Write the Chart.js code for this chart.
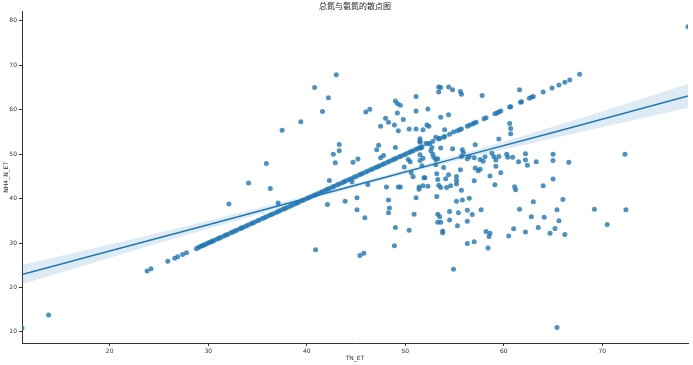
<!DOCTYPE html>
<html>
<head>
<meta charset="utf-8">
<script src="https://cdn.jsdelivr.net/npm/chart.js@4"></script>
<style>
  html, body { margin: 0; padding: 0; background: #fff; }
</style>
</head>
<body>
<canvas id="tnNh4Scatter" width="693" height="365"></canvas>
<script>
// points lying on NH4 = TN
const lineTN = [
  11.1, 13.8, 23.8, 24.2, 25.9, 26.6, 26.9, 27.4, 27.8,
  28.8, 29.0, 29.2, 29.4, 29.5, 29.7, 29.9, 30.1, 30.3, 30.4, 30.6, 30.9, 31.1, 31.3, 31.6, 31.8,
  32.0, 32.3, 32.5, 32.7, 32.9, 33.2, 33.4, 33.5, 33.8, 34.0, 34.3, 34.5, 34.7, 35.0, 35.2, 35.5,
  35.7, 35.9, 36.2, 36.4, 36.6, 36.9, 37.1, 37.3, 37.6, 37.8, 38.0, 38.3, 38.5, 38.8, 39.0, 39.2,
  39.5, 39.7, 40.0, 40.2, 40.4, 40.7, 40.9, 41.1, 41.4, 41.6, 41.9, 42.1, 42.3, 42.6, 42.8, 43.1,
  43.3, 43.6, 43.8, 44.0, 44.3, 44.5, 44.8, 45.0, 45.3, 45.5, 45.7, 46.0, 46.2, 46.5, 46.7, 47.0,
  47.2, 47.4, 47.7, 47.9, 48.2, 48.4, 48.7, 48.9, 49.1, 49.4, 49.6, 49.9, 50.1, 50.4, 50.6, 50.8,
  51.1, 51.3, 51.5, 51.7,
  52.3, 52.8, 53.4, 54.0, 54.5, 54.9, 55.3, 55.5, 55.7, 56.3, 56.5, 56.8, 57.0, 57.2, 58.0, 58.2,
  59.1, 59.3, 59.5, 59.7, 60.6, 60.7, 61.7, 61.8, 62.6, 62.8, 63.0, 64.0, 64.9, 65.6, 66.2, 66.7,
  67.7, 78.7
];
const lineNH4 = [
  10.9, 13.8, 23.7, 24.2, 25.9, 26.6, 26.9, 27.4, 27.8,
  28.7, 29.0, 29.2, 29.4, 29.5, 29.7, 29.9, 30.1, 30.3, 30.4, 30.6, 30.9, 31.1, 31.3, 31.6, 31.8,
  32.0, 32.3, 32.5, 32.7, 32.9, 33.2, 33.4, 33.5, 33.8, 34.0, 34.3, 34.5, 34.7, 35.0, 35.2, 35.5,
  35.7, 35.9, 36.2, 36.4, 36.6, 36.9, 37.1, 37.3, 37.6, 37.8, 38.0, 38.3, 38.5, 38.8, 39.0, 39.2,
  39.5, 39.7, 40.0, 40.2, 40.4, 40.7, 40.9, 41.1, 41.4, 41.6, 41.9, 42.1, 42.3, 42.6, 42.8, 43.1,
  43.3, 43.6, 43.8, 44.0, 44.3, 44.5, 44.8, 45.0, 45.3, 45.5, 45.7, 46.0, 46.2, 46.5, 46.7, 47.0,
  47.2, 47.4, 47.7, 47.9, 48.2, 48.4, 48.7, 48.9, 49.1, 49.4, 49.6, 49.9, 50.1, 50.4, 50.6, 50.8,
  51.1, 51.3, 51.5, 51.7,
  52.4, 52.9, 53.4, 54.0, 54.5, 55.0, 55.3, 55.5, 55.7, 56.3, 56.5, 56.8, 57.0, 57.2, 58.0, 58.2,
  59.1, 59.3, 59.5, 59.7, 60.6, 60.7, 61.7, 61.8, 62.6, 62.8, 63.0, 64.0, 64.9, 65.6, 66.2, 66.7,
  68.0, 78.7
];

// the scattered cloud
const cloudTN = [
  39.4, 37.5, 35.9, 34.1, 36.3, 32.1, 37.1,
  43.0, 40.8, 42.2, 41.6, 46.0, 46.4, 49.0, 49.2, 49.5, 51.1, 51.1, 52.3, 49.2, 48.0, 48.3, 47.5,
  48.9, 49.8, 49.3, 50.4, 51.1, 51.8, 52.2, 51.5, 51.5, 43.3, 43.3, 42.7, 42.9, 47.3, 47.1, 49.0,
  47.8, 47.5, 45.2, 44.7, 50.3, 50.5, 51.5, 49.9, 50.6, 50.8, 51.9, 42.3, 44.6, 46.2, 48.1, 49.3,
  49.5, 51.4, 51.8,
  51.4, 52.3, 42.1, 43.9, 45.1, 45.1, 45.9, 48.3, 48.4, 48.3, 51.1, 50.9, 49.0, 50.4, 40.9, 45.4,
  45.8, 48.9,
  53.4, 53.6, 53.4, 54.4, 54.8, 55.6, 55.7, 57.8, 54.4, 53.6, 52.4, 54.0, 53.1, 53.5, 53.9, 51.5,
  51.6, 52.1, 52.5, 52.7, 52.6, 52.8, 53.6, 54.8, 55.8, 55.9, 55.7, 57.1, 56.5, 56.3, 57.0, 57.6,
  57.9, 58.1, 58.8, 59.0, 59.5, 59.5, 59.2, 60.3, 60.4, 60.9, 60.6, 60.7, 60.7, 61.5, 62.2, 62.2,
  62.4, 63.3, 61.6, 51.5, 51.8, 52.9, 53.1, 53.3, 51.7, 52.0, 53.1, 53.9, 53.2, 53.3, 54.4, 54.1,
  55.2, 55.2, 55.6, 57.4, 57.6, 57.1, 58.6, 59.7, 59.2, 57.0,
  53.4, 53.6, 54.2, 54.6, 55.2, 55.7, 59.1, 61.1, 61.2, 64.0, 53.2, 55.2, 55.8, 56.5, 54.5, 55.4,
  56.3, 56.8, 57.7, 53.3, 53.5, 53.3, 53.6, 54.5, 56.3, 55.3, 53.8, 53.8, 58.2, 58.6, 58.5, 56.3,
  57.0, 58.4, 54.9, 63.0, 61.6, 62.8, 64.1, 61.0, 60.5, 62.2, 63.5, 64.7,
  65.0, 65.0, 66.6, 72.3, 65.0, 66.0, 65.4, 69.2, 72.4, 65.6, 65.2, 66.2, 70.5, 65.4
];
const cloudNH4 = [
  57.3, 55.4, 47.9, 43.5, 42.3, 38.8, 39.0,
  67.9, 65.0, 62.7, 59.6, 59.5, 60.1, 62.0, 61.4, 61.0, 63.0, 59.7, 60.2, 59.3, 58.1, 57.2, 56.3,
  56.6, 57.8, 55.3, 55.7, 55.7, 55.5, 56.6, 53.5, 52.7, 52.2, 50.8, 50.0, 48.1, 52.0, 51.0, 51.5,
  49.7, 49.2, 48.9, 48.2, 48.8, 48.3, 48.6, 47.1, 45.8, 44.9, 44.7, 44.1, 43.8, 43.2, 42.6, 42.6,
  42.6, 42.6, 42.9,
  42.1, 42.8, 38.7, 39.4, 40.2, 37.5, 35.7, 39.7, 37.9, 36.8, 40.2, 36.5, 33.5, 32.9, 28.5, 27.2,
  27.7, 29.4,
  65.1, 65.0, 64.0, 65.1, 64.5, 64.1, 63.5, 63.2, 58.9, 58.3, 56.3, 55.5, 53.8, 53.6, 53.8, 52.9,
  51.4, 52.4, 52.4, 51.5, 50.8, 50.0, 51.4, 51.2, 51.0, 50.3, 49.5, 52.1, 49.5, 49.0, 49.2, 48.8,
  48.4, 49.4, 50.2, 49.4, 53.4, 49.5, 48.7, 50.0, 49.3, 49.3, 56.9, 55.8, 54.6, 48.3, 50.1, 48.7,
  47.5, 48.3, 64.5, 49.9, 49.1, 49.3, 48.8, 49.0, 47.4, 44.7, 47.6, 47.0, 45.6, 44.3, 45.4, 44.5,
  45.0, 44.1, 46.5, 46.3, 46.6, 46.9, 45.1, 45.8, 47.3, 44.0,
  43.0, 42.5, 42.5, 42.9, 43.3, 41.9, 43.1, 42.7, 42.0, 42.9, 40.5, 39.4, 39.7, 40.1, 37.1, 36.8,
  37.4, 36.4, 37.5, 36.5, 35.9, 34.7, 34.7, 35.2, 34.9, 33.9, 32.7, 32.3, 32.6, 32.2, 31.5, 29.9,
  30.3, 28.9, 24.1, 39.3, 37.6, 35.9, 35.8, 33.2, 31.6, 32.5, 33.5, 32.2,
  50.0, 48.6, 48.2, 50.0, 44.4, 39.8, 37.5, 37.6, 37.5, 35.0, 33.3, 31.9, 34.2, 11.0
];

// regression line and its confidence band
const fitTN = [11.1, 20, 30, 40, 48, 55, 65, 78.7];
const fitNH4 = [22.9, 28.2, 34.1, 40.1, 44.8, 49.0, 54.9, 63.1];
const bandLow = [20.7, 26.7, 33.2, 39.55, 44.35, 48.4, 53.6, 60.4];
const bandHigh = [25.1, 29.7, 35.0, 40.65, 45.25, 49.6, 56.2, 65.8];

const xTicks = [20, 30, 40, 50, 60, 70];
const yTicks = [10, 20, 30, 40, 50, 60, 70, 80];

const toPoints = (xs, ys) => xs.map((x, i) => ({ x: x, y: ys[i] }));

const blue = "#1f77b4";
const axisColor = "#333";
const tickFont = { family: "DejaVu Sans", size: 6 };

new Chart(document.getElementById("tnNh4Scatter"), {
  type: "scatter",
  data: {
    datasets: [
      {
        label: "fit",
        data: toPoints(fitTN, fitNH4),
        showLine: true,
        borderColor: blue,
        borderWidth: 1.5,
        pointRadius: 0,
        fill: false,
      },
      {
        label: "ci low",
        data: toPoints(fitTN, bandLow),
        showLine: true,
        borderWidth: 0,
        borderColor: "rgba(0,0,0,0)",
        pointRadius: 0,
        fill: false,
        cubicInterpolationMode: "monotone",
      },
      {
        label: "ci high",
        data: toPoints(fitTN, bandHigh),
        showLine: true,
        borderWidth: 0,
        borderColor: "rgba(0,0,0,0)",
        backgroundColor: "rgba(31,119,180,0.15)",
        pointRadius: 0,
        fill: "-1",
        cubicInterpolationMode: "monotone",
      },
      {
        label: "samples",
        data: toPoints(lineTN, lineNH4).concat(toPoints(cloudTN, cloudNH4)),
        backgroundColor: "rgba(31,119,180,0.8)",
        borderWidth: 0,
        pointRadius: 2.5,
      },
    ],
  },
  options: {
    responsive: false,
    animation: false,
    layout: { padding: { left: 0, right: 5, top: 0, bottom: 0 } },
    plugins: {
      legend: { display: false },
      tooltip: { enabled: false },
      title: {
        display: true,
        text: "总氮与氨氮的散点图",
        fullSize: false,
        color: "#222",
        font: { family: "Noto Sans CJK SC", size: 8, weight: "normal" },
        padding: { top: 1, bottom: 1 },
      },
    },
    scales: {
      x: {
        type: "linear",
        min: 11.1,
        max: 78.7,
        afterBuildTicks: (s) => { s.ticks = xTicks.map((v) => ({ value: v })); },
        afterFit: (s) => { s.height = 22; },
        ticks: { color: axisColor, font: tickFont, padding: 2, maxRotation: 0 },
        grid: { drawOnChartArea: false, tickLength: 3, color: axisColor },
        border: { color: axisColor, width: 1 },
        title: { display: true, text: "TN_ET", color: axisColor, font: tickFont, padding: { top: 0, bottom: 3 } },
      },
      y: {
        type: "linear",
        min: 7.5,
        max: 82.1,
        afterBuildTicks: (s) => { s.ticks = yTicks.map((v) => ({ value: v })); },
        afterFit: (s) => { s.width = 22; },
        ticks: { color: axisColor, font: tickFont, padding: 2 },
        grid: { drawOnChartArea: false, tickLength: 3, color: axisColor },
        border: { color: axisColor, width: 1 },
        title: { display: true, text: "NH4_N_ET", color: axisColor, font: tickFont, padding: { top: 3, bottom: 0 } },
      },
    },
  },
});
</script>
</body>
</html>
